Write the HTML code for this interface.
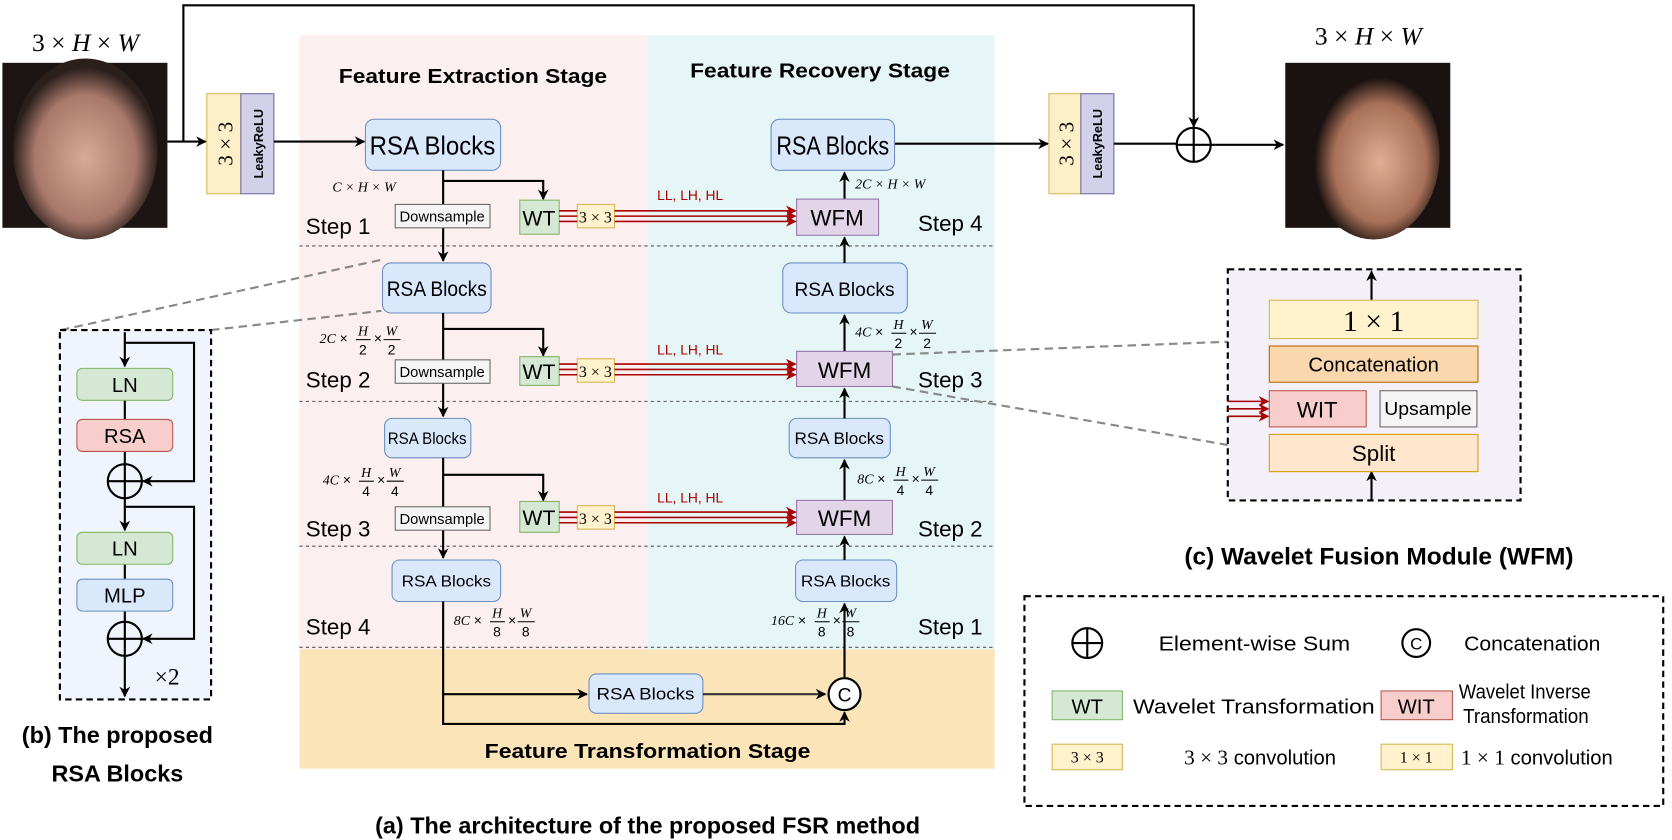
<!DOCTYPE html>
<html><head><meta charset="utf-8"><style>
html,body{margin:0;padding:0;background:#fff}
svg{display:block}
text{font-family:"Liberation Sans",sans-serif}
.m{font-family:"Liberation Serif",serif;font-style:italic}
.r{font-family:"Liberation Serif",serif}
</style></head><body>
<svg width="1672" height="840" viewBox="0 0 1570 789" xmlns="http://www.w3.org/2000/svg">
<defs>
<marker id="a" markerWidth="10" markerHeight="10" refX="9" refY="5" orient="auto" markerUnits="userSpaceOnUse"><path d="M0,0 L10,5 L0,10 L3,5 z" fill="#000"/></marker>
<marker id="ar" markerWidth="10" markerHeight="10" refX="9" refY="5" orient="auto" markerUnits="userSpaceOnUse"><path d="M0,0 L10,5 L0,10 L3,5 z" fill="#a00"/></marker>
<radialGradient id="f1" cx="0.5" cy="0.55" r="0.5"><stop offset="0" stop-color="#d8a898"/><stop offset="0.7" stop-color="#a8786a"/><stop offset="1" stop-color="#2b1f1c"/></radialGradient>
<radialGradient id="f2" cx="0.55" cy="0.55" r="0.5"><stop offset="0" stop-color="#e0ae94"/><stop offset="0.7" stop-color="#a87058"/><stop offset="1" stop-color="#1a1210"/></radialGradient>
</defs>
<rect x="2" y="59" width="155" height="155" fill="#1c1514"/>
<ellipse cx="80" cy="140" rx="68" ry="85" fill="url(#f1)"/>
<rect x="1207" y="59" width="155" height="155" fill="#1a1210"/>
<ellipse cx="1290" cy="145" rx="62" ry="80" fill="url(#f2)"/>
<text x="80" y="48" class="r" font-size="24" text-anchor="middle">3 × <tspan class="m">H</tspan> × <tspan class="m">W</tspan></text>
<text x="1285" y="42" class="r" font-size="24" text-anchor="middle">3 × <tspan class="m">H</tspan> × <tspan class="m">W</tspan></text>
<rect x="281" y="33" width="327" height="577" fill="#fcefef"/>
<rect x="608" y="33" width="326" height="577" fill="#e6f6f7"/>
<rect x="281" y="610" width="653" height="112" fill="#fae4b8"/>
<text x="444" y="78" font-size="19" font-weight="bold" text-anchor="middle" textLength="252" lengthAdjust="spacingAndGlyphs">Feature Extraction Stage</text>
<text x="770" y="73" font-size="19" font-weight="bold" text-anchor="middle" textLength="244" lengthAdjust="spacingAndGlyphs">Feature Recovery Stage</text>
<text x="608" y="712" font-size="19" font-weight="bold" text-anchor="middle" textLength="306" lengthAdjust="spacingAndGlyphs">Feature Transformation Stage</text>
<g stroke="#555" stroke-dasharray="3,3" stroke-width="1">
<line x1="281" y1="231" x2="934" y2="231"/><line x1="281" y1="377" x2="934" y2="377"/>
<line x1="281" y1="513" x2="934" y2="513"/><line x1="281" y1="608" x2="934" y2="608"/>
</g>
<polyline points="172,133 172,5 1121,5 1121,119" fill="none" stroke="#000" stroke-width="2" marker-end="url(#a)"/>
<line x1="157" y1="133" x2="193" y2="133" stroke="#000" stroke-width="2" marker-end="url(#a)"/>
<rect x="194" y="88" width="32" height="94" fill="#fdf0c8" stroke="#d8b65a"/>
<rect x="226" y="88" width="31" height="94" fill="#d3d0ea" stroke="#6c6a9e"/>
<text transform="translate(218,135) rotate(-90)" class="r" font-size="20" text-anchor="middle">3 × 3</text>
<text transform="translate(247,135) rotate(-90)" font-size="12" font-weight="bold" text-anchor="middle">LeakyReLU</text>
<line x1="257" y1="133" x2="342" y2="133" stroke="#000" stroke-width="2" marker-end="url(#a)"/>
<rect x="985" y="88" width="30" height="94" fill="#fdf0c8" stroke="#d8b65a"/>
<rect x="1015" y="88" width="31" height="94" fill="#d3d0ea" stroke="#6c6a9e"/>
<text transform="translate(1008,135) rotate(-90)" class="r" font-size="20" text-anchor="middle">3 × 3</text>
<text transform="translate(1035,135) rotate(-90)" font-size="12" font-weight="bold" text-anchor="middle">LeakyReLU</text>
<line x1="840" y1="135" x2="984" y2="135" stroke="#000" stroke-width="2" marker-end="url(#a)"/>
<line x1="1046" y1="135" x2="1105" y2="135" stroke="#000" stroke-width="2"/>
<circle cx="1121" cy="136" r="16" fill="none" stroke="#000" stroke-width="2"/>
<line x1="1105" y1="136" x2="1137" y2="136" stroke="#000" stroke-width="2"/><line x1="1121" y1="120" x2="1121" y2="152" stroke="#000" stroke-width="2"/>
<line x1="1137" y1="136" x2="1205" y2="136" stroke="#000" stroke-width="2" marker-end="url(#a)"/>
<g fill="#dae8fc" stroke="#6c8ebf">
<rect x="343" y="112" width="127" height="48" rx="8"/>
<rect x="359" y="247" width="102" height="47" rx="8"/>
<rect x="361" y="393" width="81" height="37" rx="7"/>
<rect x="368" y="526" width="102" height="39" rx="7"/>
<rect x="724" y="112" width="116" height="48" rx="8"/>
<rect x="735" y="247" width="117" height="47" rx="8"/>
<rect x="741" y="393" width="95" height="37" rx="7"/>
<rect x="747" y="526" width="95" height="39" rx="7"/>
<rect x="553" y="633" width="107" height="37" rx="7"/>
</g>
<text x="406" y="145" font-size="24" text-anchor="middle" textLength="118" lengthAdjust="spacingAndGlyphs">RSA Blocks</text>
<text x="410" y="278" font-size="20" text-anchor="middle" textLength="94" lengthAdjust="spacingAndGlyphs">RSA Blocks</text>
<text x="401" y="417" font-size="16" text-anchor="middle" textLength="74" lengthAdjust="spacingAndGlyphs">RSA Blocks</text>
<text x="419" y="551" font-size="15" text-anchor="middle" textLength="84" lengthAdjust="spacingAndGlyphs">RSA Blocks</text>
<text x="782" y="145" font-size="24" text-anchor="middle" textLength="106" lengthAdjust="spacingAndGlyphs">RSA Blocks</text>
<text x="793" y="278" font-size="18" text-anchor="middle" textLength="94" lengthAdjust="spacingAndGlyphs">RSA Blocks</text>
<text x="788" y="417" font-size="16" text-anchor="middle" textLength="84" lengthAdjust="spacingAndGlyphs">RSA Blocks</text>
<text x="794" y="551" font-size="15" text-anchor="middle" textLength="84" lengthAdjust="spacingAndGlyphs">RSA Blocks</text>
<text x="606" y="657" font-size="16" text-anchor="middle" textLength="92" lengthAdjust="spacingAndGlyphs">RSA Blocks</text>
<g stroke="#000" stroke-width="2" fill="none">
<line x1="416" y1="160" x2="416" y2="245" marker-end="url(#a)"/>
<polyline points="416,170 510,170 510,187" marker-end="url(#a)"/>
<line x1="416" y1="294" x2="416" y2="391" marker-end="url(#a)"/>
<polyline points="416,309 510,309 510,334" marker-end="url(#a)"/>
<line x1="416" y1="430" x2="416" y2="524" marker-end="url(#a)"/>
<polyline points="416,446 510,446 510,470" marker-end="url(#a)"/>
<polyline points="416,565 416,652 551,652" marker-end="url(#a)"/>
<polyline points="416,652 416,680 793,680 793,669" marker-end="url(#a)"/>
<line x1="660" y1="652" x2="775" y2="652" stroke="#333" marker-end="url(#a)"/>
<line x1="793" y1="636" x2="793" y2="567" marker-end="url(#a)"/>
<line x1="793" y1="526" x2="793" y2="504" marker-end="url(#a)"/>
<line x1="793" y1="470" x2="793" y2="432" marker-end="url(#a)"/>
<line x1="793" y1="393" x2="793" y2="365" marker-end="url(#a)"/>
<line x1="793" y1="330" x2="793" y2="296" marker-end="url(#a)"/>
<line x1="793" y1="247" x2="793" y2="223" marker-end="url(#a)"/>
<line x1="793" y1="187" x2="793" y2="162" marker-end="url(#a)"/>
</g>
<circle cx="793" cy="652" r="15" fill="#fff" stroke="#000" stroke-width="2"/>
<text x="793" y="659" font-size="18" text-anchor="middle">C</text>
<g font-size="14">
<rect x="371" y="192" width="89" height="22" fill="#f5f5f5" stroke="#666"/><text x="415" y="208" text-anchor="middle" textLength="80" lengthAdjust="spacingAndGlyphs">Downsample</text>
<rect x="371" y="338" width="89" height="22" fill="#f5f5f5" stroke="#666"/><text x="415" y="354" text-anchor="middle" textLength="80" lengthAdjust="spacingAndGlyphs">Downsample</text>
<rect x="371" y="476" width="89" height="22" fill="#f5f5f5" stroke="#666"/><text x="415" y="492" text-anchor="middle" textLength="80" lengthAdjust="spacingAndGlyphs">Downsample</text>
</g>
<g>
<rect x="488" y="188" width="37" height="32" fill="#d5e8d4" stroke="#82b366"/><text x="506" y="212" font-size="20" text-anchor="middle">WT</text>
<rect x="488" y="335" width="37" height="27" fill="#d5e8d4" stroke="#82b366"/><text x="506" y="356" font-size="20" text-anchor="middle">WT</text>
<rect x="488" y="471" width="37" height="29" fill="#d5e8d4" stroke="#82b366"/><text x="506" y="493" font-size="20" text-anchor="middle">WT</text>
<rect x="542" y="192" width="35" height="22" fill="#fff2cc" stroke="#d6b656"/><text x="559" y="209" class="r" font-size="15" text-anchor="middle">3 × 3</text>
<rect x="542" y="337" width="35" height="22" fill="#fff2cc" stroke="#d6b656"/><text x="559" y="354" class="r" font-size="15" text-anchor="middle">3 × 3</text>
<rect x="542" y="475" width="35" height="22" fill="#fff2cc" stroke="#d6b656"/><text x="559" y="492" class="r" font-size="15" text-anchor="middle">3 × 3</text>
<rect x="748" y="187" width="77" height="34" fill="#e1d5e7" stroke="#9673a6"/><text x="786" y="212" font-size="21" text-anchor="middle">WFM</text>
<rect x="748" y="330" width="90" height="33" fill="#e1d5e7" stroke="#9673a6"/><text x="793" y="355" font-size="21" text-anchor="middle">WFM</text>
<rect x="748" y="470" width="90" height="32" fill="#e1d5e7" stroke="#9673a6"/><text x="793" y="494" font-size="21" text-anchor="middle">WFM</text>
</g>
<g stroke="#a00" stroke-width="1.5">
<line x1="525" y1="198" x2="542" y2="198"/><line x1="525" y1="203" x2="542" y2="203"/><line x1="525" y1="208" x2="542" y2="208"/>
<line x1="577" y1="198" x2="747" y2="198" marker-end="url(#ar)"/><line x1="577" y1="203" x2="747" y2="203" marker-end="url(#ar)"/><line x1="577" y1="208" x2="747" y2="208" marker-end="url(#ar)"/>
<line x1="525" y1="342" x2="542" y2="342"/><line x1="525" y1="347" x2="542" y2="347"/><line x1="525" y1="352" x2="542" y2="352"/>
<line x1="577" y1="342" x2="747" y2="342" marker-end="url(#ar)"/><line x1="577" y1="347" x2="747" y2="347" marker-end="url(#ar)"/><line x1="577" y1="352" x2="747" y2="352" marker-end="url(#ar)"/>
<line x1="525" y1="481" x2="542" y2="481"/><line x1="525" y1="486" x2="542" y2="486"/><line x1="525" y1="491" x2="542" y2="491"/>
<line x1="577" y1="481" x2="747" y2="481" marker-end="url(#ar)"/><line x1="577" y1="486" x2="747" y2="486" marker-end="url(#ar)"/><line x1="577" y1="491" x2="747" y2="491" marker-end="url(#ar)"/>
</g>
<g fill="#a00" font-size="13">
<text x="617" y="188">LL, LH, HL</text><text x="617" y="333">LL, LH, HL</text><text x="617" y="472">LL, LH, HL</text>
</g>
<g font-size="21">
<text x="287" y="220">Step 1</text><text x="287" y="364">Step 2</text><text x="287" y="504">Step 3</text><text x="287" y="596">Step 4</text>
<text x="862" y="217">Step 4</text><text x="862" y="364">Step 3</text><text x="862" y="504">Step 2</text><text x="862" y="596">Step 1</text>
</g>
<g class="r" font-size="13">
<text x="312" y="180" class="m">C × H × W</text>
<text x="803" y="177" class="m">2C × H × W</text>
</g>
<g class="r" font-size="13" stroke-width="1">
<g transform="translate(300,322)"><text><tspan class="m">2C</tspan> ×</text><text x="36" y="-7" class="m">H</text><line x1="34" y1="-3" x2="48" y2="-3" stroke="#000"/><text x="37" y="11">2</text><text x="51">×</text><text x="62" y="-7" class="m">W</text><line x1="60" y1="-3" x2="76" y2="-3" stroke="#000"/><text x="64" y="11">2</text></g>
<g transform="translate(803,316)"><text><tspan class="m">4C</tspan> ×</text><text x="36" y="-7" class="m">H</text><line x1="34" y1="-3" x2="48" y2="-3" stroke="#000"/><text x="37" y="11">2</text><text x="51">×</text><text x="62" y="-7" class="m">W</text><line x1="60" y1="-3" x2="76" y2="-3" stroke="#000"/><text x="64" y="11">2</text></g>
<g transform="translate(303,455)"><text><tspan class="m">4C</tspan> ×</text><text x="36" y="-7" class="m">H</text><line x1="34" y1="-3" x2="48" y2="-3" stroke="#000"/><text x="37" y="11">4</text><text x="51">×</text><text x="62" y="-7" class="m">W</text><line x1="60" y1="-3" x2="76" y2="-3" stroke="#000"/><text x="64" y="11">4</text></g>
<g transform="translate(805,454)"><text><tspan class="m">8C</tspan> ×</text><text x="36" y="-7" class="m">H</text><line x1="34" y1="-3" x2="48" y2="-3" stroke="#000"/><text x="37" y="11">4</text><text x="51">×</text><text x="62" y="-7" class="m">W</text><line x1="60" y1="-3" x2="76" y2="-3" stroke="#000"/><text x="64" y="11">4</text></g>
<g transform="translate(426,587)"><text><tspan class="m">8C</tspan> ×</text><text x="36" y="-7" class="m">H</text><line x1="34" y1="-3" x2="48" y2="-3" stroke="#000"/><text x="37" y="11">8</text><text x="51">×</text><text x="62" y="-7" class="m">W</text><line x1="60" y1="-3" x2="76" y2="-3" stroke="#000"/><text x="64" y="11">8</text></g>
<g transform="translate(724,587)"><text><tspan class="m">16C</tspan> ×</text><text x="43" y="-7" class="m">H</text><line x1="41" y1="-3" x2="55" y2="-3" stroke="#000"/><text x="44" y="11">8</text><text x="58">×</text><text x="69" y="-7" class="m">W</text><line x1="67" y1="-3" x2="83" y2="-3" stroke="#000"/><text x="71" y="11">8</text></g>
</g>
<g stroke="#888" stroke-width="2" stroke-dasharray="8,5" fill="none">
<line x1="57" y1="310" x2="358" y2="244"/><line x1="198" y1="310" x2="358" y2="292"/>
<line x1="838" y1="333" x2="1153" y2="321"/><line x1="838" y1="363" x2="1153" y2="418"/>
</g>
<rect x="56" y="310" width="142" height="347" fill="#f0f4fc" stroke="#000" stroke-width="2" stroke-dasharray="6,4"/>
<g stroke="#000" stroke-width="2" fill="none">
<line x1="117" y1="312" x2="117" y2="344" marker-end="url(#a)"/>
<polyline points="117,322 182,322 182,452 134,452" marker-end="url(#a)"/>
<line x1="117" y1="376" x2="117" y2="394"/><line x1="117" y1="424" x2="117" y2="436"/>
<line x1="117" y1="468" x2="117" y2="498" marker-end="url(#a)"/>
<polyline points="117,476 182,476 182,600 134,600" marker-end="url(#a)"/>
<line x1="117" y1="530" x2="117" y2="544"/><line x1="117" y1="574" x2="117" y2="584"/>
<line x1="117" y1="616" x2="117" y2="654" marker-end="url(#a)"/>
<circle cx="117" cy="452" r="16"/><line x1="101" y1="452" x2="133" y2="452"/><line x1="117" y1="436" x2="117" y2="468"/>
<circle cx="117" cy="600" r="16"/><line x1="101" y1="600" x2="133" y2="600"/><line x1="117" y1="584" x2="117" y2="616"/>
</g>
<rect x="72" y="346" width="90" height="30" rx="5" fill="#d5e8d4" stroke="#82b366"/><text x="117" y="368" font-size="19" text-anchor="middle">LN</text>
<rect x="72" y="394" width="90" height="30" rx="5" fill="#f8cecc" stroke="#b85450"/><text x="117" y="416" font-size="19" text-anchor="middle">RSA</text>
<rect x="72" y="500" width="90" height="30" rx="5" fill="#d5e8d4" stroke="#82b366"/><text x="117" y="522" font-size="19" text-anchor="middle">LN</text>
<rect x="72" y="544" width="90" height="30" rx="5" fill="#dae8fc" stroke="#6c8ebf"/><text x="117" y="566" font-size="19" text-anchor="middle">MLP</text>
<text x="145" y="643" class="r" font-size="22">×2</text>
<text x="110" y="698" font-size="22" font-weight="bold" text-anchor="middle">(b) The proposed</text>
<text x="110" y="734" font-size="22" font-weight="bold" text-anchor="middle">RSA Blocks</text>
<text x="608" y="783" font-size="22" font-weight="bold" text-anchor="middle">(a) The architecture of the proposed FSR method</text>
<rect x="1153" y="253" width="275" height="217" fill="#f4f0f8" stroke="#000" stroke-width="2" stroke-dasharray="6,4"/>
<line x1="1288" y1="282" x2="1288" y2="255" stroke="#000" stroke-width="2" marker-end="url(#a)"/>
<line x1="1288" y1="470" x2="1288" y2="443" stroke="#000" stroke-width="2" marker-end="url(#a)"/>
<rect x="1192" y="282" width="196" height="36" fill="#fff2cc" stroke="#d6b656"/><text x="1290" y="311" class="r" font-size="28" text-anchor="middle">1 × 1</text>
<rect x="1192" y="325" width="196" height="34" fill="#fad7ac" stroke="#b46504"/><text x="1290" y="349" font-size="19" text-anchor="middle">Concatenation</text>
<rect x="1192" y="367" width="91" height="34" fill="#f8cecc" stroke="#b85450"/><text x="1237" y="392" font-size="21" text-anchor="middle">WIT</text>
<rect x="1296" y="367" width="91" height="34" fill="#f5f5f5" stroke="#666"/><text x="1341" y="390" font-size="17" text-anchor="middle" textLength="82" lengthAdjust="spacingAndGlyphs">Upsample</text>
<rect x="1192" y="408" width="196" height="35" fill="#ffe6cc" stroke="#d79b00"/><text x="1290" y="433" font-size="21" text-anchor="middle">Split</text>
<g stroke="#a00" stroke-width="1.5"><line x1="1153" y1="377" x2="1191" y2="377" marker-end="url(#ar)"/><line x1="1153" y1="384" x2="1191" y2="384" marker-end="url(#ar)"/><line x1="1153" y1="391" x2="1191" y2="391" marker-end="url(#ar)"/></g>
<text x="1295" y="530" font-size="23" font-weight="bold" text-anchor="middle">(c) Wavelet Fusion Module (WFM)</text>
<!-- legend -->
<rect x="962" y="560" width="600" height="197" fill="none" stroke="#000" stroke-width="2" stroke-dasharray="6,4"/>
<g stroke="#000" stroke-width="2" fill="none"><circle cx="1021" cy="604" r="14"/><line x1="1007" y1="604" x2="1035" y2="604"/><line x1="1021" y1="590" x2="1021" y2="618"/><circle cx="1330" cy="604" r="13"/></g>
<text x="1330" y="610" font-size="16" text-anchor="middle">C</text>
<g font-size="19">
<text x="1088" y="611" textLength="180" lengthAdjust="spacingAndGlyphs">Element-wise Sum</text>
<text x="1375" y="611" textLength="128" lengthAdjust="spacingAndGlyphs">Concatenation</text>
<rect x="988" y="649" width="66" height="27" fill="#d5e8d4" stroke="#82b366"/><text x="1021" y="670" text-anchor="middle">WT</text>
<text x="1064" y="670" textLength="227" lengthAdjust="spacingAndGlyphs">Wavelet Transformation</text>
<rect x="1297" y="649" width="67" height="27" fill="#f8cecc" stroke="#b85450"/><text x="1330" y="670" text-anchor="middle">WIT</text>
<text x="1370" y="656" textLength="124" lengthAdjust="spacingAndGlyphs">Wavelet Inverse</text><text x="1374" y="679" textLength="118" lengthAdjust="spacingAndGlyphs">Transformation</text>
<rect x="988" y="699" width="66" height="24" fill="#fff2cc" stroke="#d6b656"/><text x="1021" y="716" class="r" font-size="15" text-anchor="middle">3 × 3</text>
<text x="1112" y="718"><tspan class="r" font-size="20">3 × 3</tspan> <tspan>convolution</tspan></text>
<rect x="1297" y="699" width="67" height="24" fill="#fff2cc" stroke="#d6b656"/><text x="1330" y="716" class="r" font-size="15" text-anchor="middle">1 × 1</text>
<text x="1372" y="718"><tspan class="r" font-size="20">1 × 1</tspan> <tspan>convolution</tspan></text>
</g>
</svg>
</body></html>
